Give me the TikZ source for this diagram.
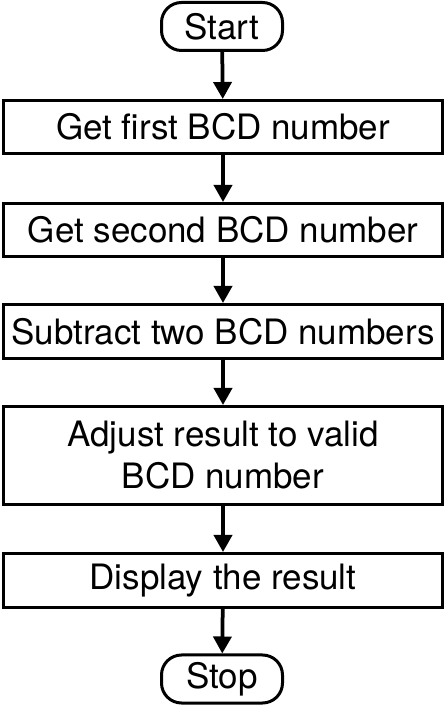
\documentclass[tikz,border=0pt]{standalone}
\usepackage{fontspec}
\setmainfont{TeX Gyre Heros}
\usetikzlibrary{arrows.meta}

\begin{document}
\begin{tikzpicture}[line width=0.06cm,
    every node/.style={align=center, font=\fontsize{19.9}{23.9}\selectfont},
    stepbox/.style={draw, minimum width=8.78cm},
    terminal/.style={draw, rounded corners=0.4cm, minimum width=2.42cm, minimum height=0.96cm},
    flow/.style={line width=0.075cm, -{Triangle[length=0.34cm, width=0.36cm]}}]
  \useasboundingbox (0, 0) rectangle (8.92, 14.14);

  \node[terminal]
    (start) at (4.44, 13.61) {Start};

  \node[stepbox, minimum height=1.06cm]
    (first) at (4.46, 11.60) {Get first BCD number};

  \node[stepbox, minimum height=1.06cm]
    (second) at (4.46, 9.54) {Get second BCD number};

  \node[stepbox, minimum height=1.08cm]
    (sub) at (4.46, 7.51) {Subtract two BCD numbers};

  \node[stepbox, minimum height=1.96cm]
    (adjust) at (4.46, 5.03)
    {Adjust result to valid\\
    BCD number};

  \node[stepbox, minimum height=1.08cm]
    (show) at (4.46, 2.53) {Display the result};

  \node[terminal]
    (stop) at (4.44, 0.56) {Stop};

  \draw[flow] (start) -- (first);
  \draw[flow] (first) -- (second);
  \draw[flow] (second) -- (sub);
  \draw[flow] (sub) -- (adjust);
  \draw[flow] (adjust) -- (show);
  \draw[flow] (show) -- (stop);

\end{tikzpicture}
\end{document}
